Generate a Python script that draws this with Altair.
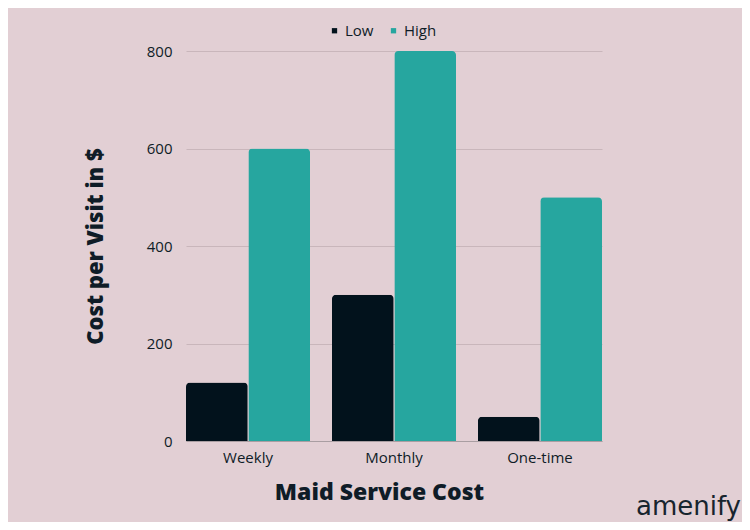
import altair as alt
import pandas as pd

categories = ["Weekly", "Monthly", "One-time"]
series = ["Low", "High"]
low_values = [120, 300, 50]
high_values = [600, 800, 500]

rows = []
for c, lo, hi in zip(categories, low_values, high_values):
    rows.append({"Frequency": c, "Level": "Low", "Cost": lo})
    rows.append({"Frequency": c, "Level": "High", "Cost": hi})
df = pd.DataFrame(rows)

BG = "#e2cfd4"
TEXT = "#0f1c27"
FONT = "Open Sans"

chart = alt.Chart(df).mark_bar(
    cornerRadiusTopLeft=4, cornerRadiusTopRight=4
).encode(
    x=alt.X("Frequency:N", sort=categories,
            scale=alt.Scale(paddingInner=0.15, paddingOuter=0),
            axis=alt.Axis(title="Maid Service Cost", labelAngle=0, ticks=False,
                          labelPadding=9, titlePadding=16, labelFontSize=15,
                          titleFontSize=23, titleFontWeight=800, titleX=193,
                          domainColor="#a99ea2", labelColor=TEXT, titleColor=TEXT,
                          labelFont=FONT, titleFont=FONT)),
    xOffset=alt.XOffset("Level:N", sort=series, scale=alt.Scale(paddingInner=0.01)),
    y=alt.Y("Cost:Q", scale=alt.Scale(domain=[0, 800]),
            axis=alt.Axis(title="Cost per Visit in $", values=[0, 200, 400, 600, 800],
                          ticks=False, domain=False, labelPadding=14, titlePadding=39,
                          labelFontSize=15, titleFontSize=22, titleFontWeight=800,
                          gridColor="#c9b6bb", labelColor=TEXT, titleColor=TEXT,
                          labelFont=FONT, titleFont=FONT)),
    color=alt.Color("Level:N", sort=series,
                    scale=alt.Scale(domain=series, range=["#02121c", "#26a69f"]),
                    legend=alt.Legend(title=None, orient="none", direction="horizontal",
                                      legendX=141, legendY=-28, symbolType="square",
                                      symbolSize=28, labelFontSize=15, labelFont=FONT,
                                      labelColor=TEXT, columnPadding=12, labelOffset=3)),
).properties(
    width=416, height=390,
    background=BG,
    padding={"left": 178, "top": 43, "right": 140, "bottom": 81},
    autosize=alt.AutoSizeParams(type="none"),
    title=alt.TitleParams("amenify", orient="bottom", anchor="end", dx=139, dy=-14,
                          fontSize=26, font="DejaVu Sans", fontWeight="normal",
                          color="#17242e"),
).configure_view(stroke=None)

chart.save("out.html", embed_options={"renderer": "svg", "actions": False})
